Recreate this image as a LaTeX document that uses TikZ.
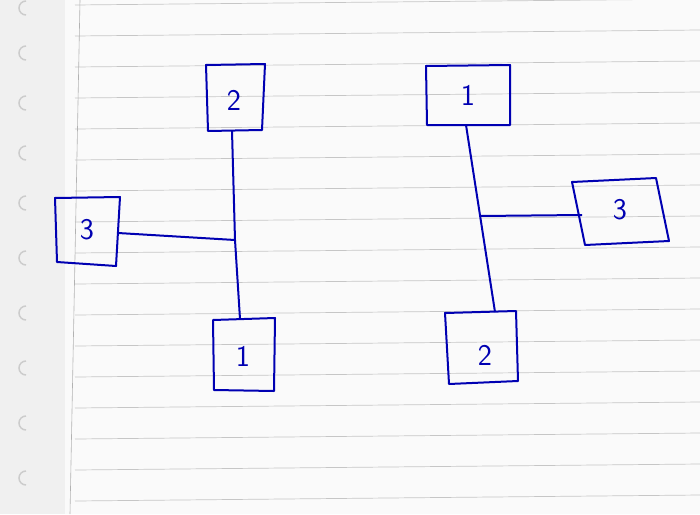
\documentclass[tikz,border=0pt]{standalone}
\begin{document}
\begin{tikzpicture}[x=1pt,y=-1pt,
  ink/.style={draw=blue!70!black,line width=2pt,line join=round},
  boxn/.style={ink,fill=none},
  lbl/.style={font=\fontsize{30}{32}\selectfont\sffamily,text=blue!70!black},
  rule/.style={draw=gray!45,line width=0.7pt}]
\useasboundingbox (0,0) rectangle (700,514);
\fill[gray!12] (0,0) rectangle (700,514);
\fill[white!96!gray] (65,0) rectangle (700,514);
\foreach \y in {2,33,64,95,126,157,188,219,250,281,312,343,374,405,436,467,498}
  \draw[rule] (75,\y+3) -- (700,\y-3);
\draw[gray!60,line width=0.6pt] (80,0) -- (70,514);
\foreach \y in {15,60,110,160,210,265,320,375,430,485}
  \draw[gray!40,line width=1.5pt] (26,\y) arc (90:270:7);
% left diagram
\draw[boxn] (206,65) -- (265,64) -- (262,130) -- (208,131) -- cycle;
\node[lbl] (L2) at (234,100) {2};
\draw[boxn] (55,198) -- (120,197) -- (116,266) -- (57,262) -- cycle;
\node[lbl] (L3) at (87,230) {3};
\draw[boxn] (213,320) -- (275,318) -- (274,391) -- (214,390) -- cycle;
\node[lbl] (L1) at (243,356) {1};
\coordinate (La) at (232,131);
\coordinate (Lb) at (240,319);
\coordinate (Lj) at (235,240);
\coordinate (Lc) at (118,233);
\draw[ink] (La) -- (Lj) -- (Lb);
\draw[ink] (Lc) -- (Lj);
% right diagram
\draw[boxn] (426,66) -- (510,65) -- (510,125) -- (427,125) -- cycle;
\node[lbl] (R1) at (468,95) {1};
\draw[boxn] (572,182) -- (656,178) -- (669,241) -- (585,245) -- cycle;
\node[lbl] (R3) at (620,210) {3};
\draw[boxn] (445,313) -- (516,311) -- (518,381) -- (449,384) -- cycle;
\node[lbl] (R2) at (485,355) {2};
\coordinate (Ra) at (466,125);
\coordinate (Rb) at (495,312);
\coordinate (Rj) at (480,216);
\coordinate (Rc) at (582,215);
\draw[ink] (Ra) -- (Rb);
\draw[ink] (Rj) -- (Rc);
\end{tikzpicture}
\end{document}
